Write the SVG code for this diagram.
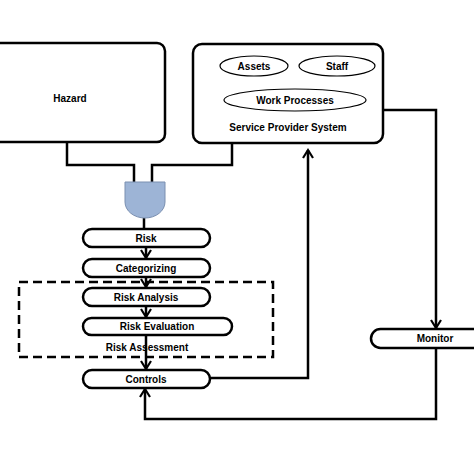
<svg xmlns="http://www.w3.org/2000/svg" width="474" height="474" viewBox="0 0 474 474">
<style>
.box{fill:#fff;stroke:#000;stroke-width:2.5}
.ell{fill:#fff;stroke:#000;stroke-width:1.2}
.t{font-family:"Liberation Sans",Arial,sans-serif;font-weight:bold;font-size:10px;text-anchor:middle;dominant-baseline:central;fill:#000}
.c{fill:none;stroke:#000;stroke-width:2.5}
</style>
<defs>
<marker id="arr" markerUnits="userSpaceOnUse" markerWidth="14" markerHeight="14" refX="10" refY="6" orient="auto">
<path d="M2,1 L10,6 L2,11" fill="none" stroke="#000" stroke-width="2.2"/>
</marker>
</defs>
<rect width="474" height="474" fill="#fff"/>
<g id="connectors">
<path class="c" d="M67,142 V165 H134 V182"/>
<path class="c" d="M232,143 V165 H152 V182"/>
<path class="c" d="M144,218 V229"/>
<path class="c" d="M146,247 V258" marker-end="url(#arr)"/>
<path class="c" d="M146,277 V287" marker-end="url(#arr)"/>
<path class="c" d="M146,306 V317" marker-end="url(#arr)"/>
<path class="c" d="M146,335 V369" marker-end="url(#arr)"/>
<path class="c" d="M210,378 H308 V150" marker-end="url(#arr)"/>
<path class="c" d="M383,110 H436 V328" marker-end="url(#arr)"/>
<path class="c" d="M436,348 V419 H145 V389" marker-end="url(#arr)"/>
</g>
<g id="hazard">
<rect class="box" x="-12" y="43" width="177" height="99" rx="8"/>
<text class="t" x="70" y="98">Hazard</text>
</g>
<g id="sps">
<rect class="box" x="193" y="44" width="190" height="99" rx="9"/>
<text class="t" x="288" y="127">Service Provider System</text>
</g>
<g id="assets">
<ellipse class="ell" cx="254" cy="66" rx="34" ry="10"/>
<text class="t" x="254" y="66">Assets</text>
</g>
<g id="staff">
<ellipse class="ell" cx="337" cy="66" rx="38" ry="10"/>
<text class="t" x="337" y="66">Staff</text>
</g>
<g id="work">
<ellipse class="ell" cx="295" cy="100" rx="71" ry="11"/>
<text class="t" x="295" y="100">Work Processes</text>
</g>
<g id="gate">
<path d="M125,182 H165 V202 A20,16 0 0 1 125,202 Z" fill="#9db4d6" stroke="#7a8fb0" stroke-width="1"/>
</g>
<g id="assessment">
<rect x="19" y="282" width="254" height="75" fill="none" stroke="#000" stroke-width="2.5" stroke-dasharray="9,5"/>
<text class="t" x="147" y="347">Risk Assessment</text>
</g>
<g id="risk">
<rect class="box" x="83" y="229" width="127" height="18" rx="9"/>
<text class="t" x="146" y="238">Risk</text>
</g>
<g id="categorizing">
<rect class="box" x="83" y="259" width="127" height="18" rx="9"/>
<text class="t" x="146" y="268">Categorizing</text>
</g>
<g id="analysis">
<rect class="box" x="83" y="288" width="127" height="18" rx="9"/>
<text class="t" x="146" y="297">Risk Analysis</text>
</g>
<g id="evaluation">
<rect class="box" x="83" y="318" width="149" height="17" rx="8.5"/>
<text class="t" x="157" y="326.5">Risk Evaluation</text>
</g>
<g id="controls">
<rect class="box" x="83" y="370" width="127" height="18" rx="9"/>
<text class="t" x="146" y="379">Controls</text>
</g>
<g id="monitor">
<rect class="box" x="371" y="329" width="125" height="19" rx="9.5"/>
<text class="t" x="435" y="338.5">Monitor</text>
</g>
</svg>
